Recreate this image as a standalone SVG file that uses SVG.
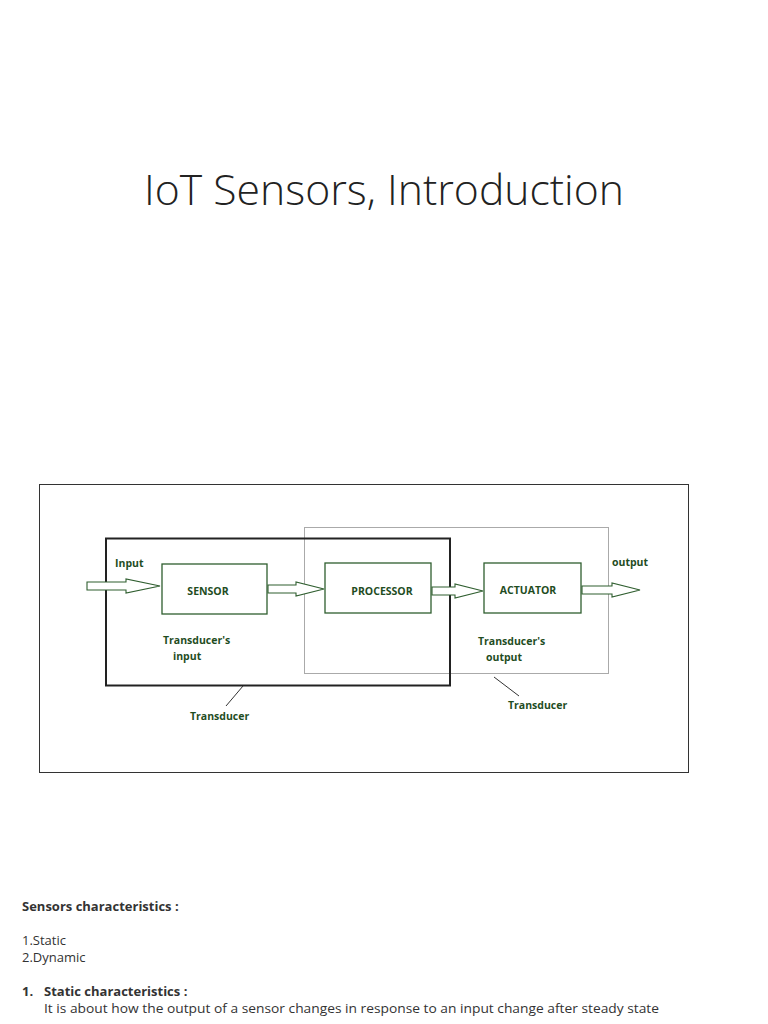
<svg xmlns="http://www.w3.org/2000/svg" width="768" height="1024" viewBox="0 0 768 1024">
<style>
.lbl{font-family:"Open Sans","Liberation Sans",sans-serif;font-weight:bold;font-size:10.5px;fill:#1f4d1f}
.box{fill:#fff;stroke:#2f5e2f;stroke-width:1.3}
.arr{fill:#fff;stroke:#2f5e2f;stroke-width:1.1}
.body{font-family:"Open Sans","Liberation Sans",sans-serif;font-size:13px;fill:#333}
</style>
<rect width="768" height="1024" fill="#fff"/>
<text x="384" y="205" text-anchor="middle" font-family="'Open Sans','Liberation Sans',sans-serif" font-weight="300" font-size="42" fill="#222" textLength="480" lengthAdjust="spacingAndGlyphs">IoT Sensors, Introduction</text>
<rect x="39.5" y="484.5" width="649" height="288" fill="none" stroke="#333" stroke-width="1"/>
<rect x="304.5" y="527.5" width="304" height="146" fill="none" stroke="#aaa" stroke-width="1"/>
<rect x="106" y="538.5" width="344" height="147" fill="none" stroke="#222" stroke-width="2"/>
<g id="connectors">
<polygon class="arr" points="87,582 126,582 126,579 160,586 126,593 126,590 87,590"/>
<polygon class="arr" points="268,585 296,585 296,582 324,589 296,596 296,593 268,593"/>
<polygon class="arr" points="432,587 455,587 455,584 483,591 455,598 455,595 432,595"/>
<polygon class="arr" points="582,586 612,586 612,583 640,590 612,597 612,594 582,594"/>
<line x1="243" y1="686" x2="226" y2="706" stroke="#333"/>
<line x1="494" y1="677" x2="519" y2="696" stroke="#333"/>
</g>
<g id="sensor"><rect class="box" x="162" y="564" width="105" height="50"/><text class="lbl" x="208" y="595" text-anchor="middle">SENSOR</text></g>
<g id="processor"><rect class="box" x="325" y="563" width="106" height="50"/><text class="lbl" x="382" y="595" text-anchor="middle">PROCESSOR</text></g>
<g id="actuator"><rect class="box" x="484" y="563" width="97" height="50"/><text class="lbl" x="528" y="594" text-anchor="middle">ACTUATOR</text></g>
<text class="lbl" x="115" y="567">Input</text>
<text class="lbl" x="612" y="566">output</text>
<text class="lbl" x="163" y="644">Transducer's</text>
<text class="lbl" x="173" y="660">input</text>
<text class="lbl" x="478" y="645">Transducer's</text>
<text class="lbl" x="486" y="661">output</text>
<text class="lbl" x="190" y="720">Transducer</text>
<text class="lbl" x="508" y="709">Transducer</text>
<text class="body" x="22" y="911" font-weight="bold">Sensors characteristics :</text>
<text class="body" x="22" y="945">1.Static</text>
<text class="body" x="22" y="962">2.Dynamic</text>
<text class="body" x="22" y="996" font-weight="bold">1.</text>
<text class="body" x="44" y="996" font-weight="bold">Static characteristics :</text>
<text class="body" x="44" y="1013" textLength="615" lengthAdjust="spacingAndGlyphs">It is about how the output of a sensor changes in response to an input change after steady state</text>
</svg>
